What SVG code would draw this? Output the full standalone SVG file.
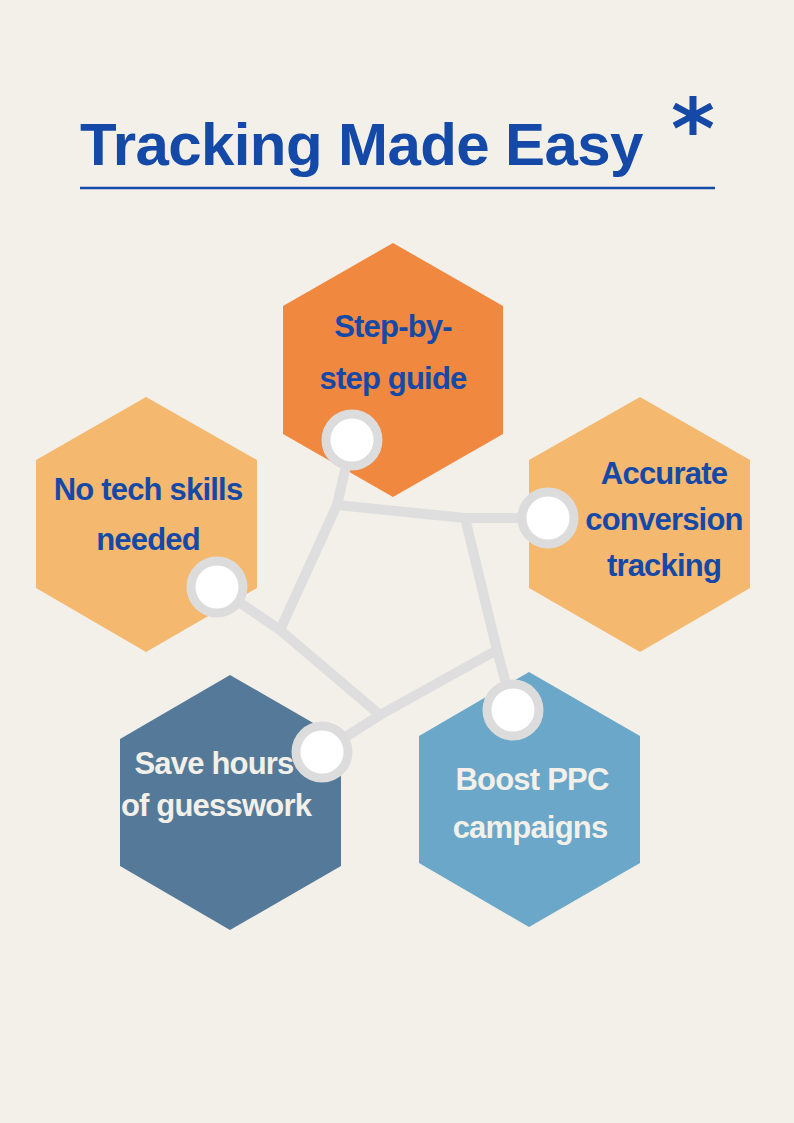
<svg xmlns="http://www.w3.org/2000/svg" width="794" height="1123" viewBox="0 0 794 1123">
<style>
.t{font-family:"Liberation Sans",Arial,sans-serif;font-weight:bold;font-size:31px;text-anchor:middle;letter-spacing:-0.8px}
.b{fill:#1549A8}.w{fill:#F3F0EA}
.c{fill:#fff;stroke:#DCDCDC;stroke-width:9}
</style>
<rect width="794" height="1123" fill="#F3F0EA"/>
<text x="80" y="165" font-family="Liberation Sans,Arial,sans-serif" font-weight="bold" font-size="60" fill="#1549A8" letter-spacing="-0.6">Tracking Made Easy</text>
<line x1="80" y1="188" x2="715" y2="188" stroke="#1549A8" stroke-width="2.5"/>
<text x="693" y="158" font-family="DejaVu Sans,sans-serif" font-weight="bold" font-size="84" fill="#1549A8" text-anchor="middle">*</text>
<g id="n1"><polygon points="393,243 503,306 503,434 393,497 283,434 283,306" fill="#F0883F"/>
<text class="t b" x="393" y="337">Step-by-</text><text class="t b" x="393" y="389">step guide</text></g>
<g id="n2"><polygon points="146,397 257,460 257,588 146,652 36,588 36,460" fill="#F4B86E"/>
<text class="t b" x="148" y="500">No tech skills</text><text class="t b" x="148" y="550">needed</text></g>
<g id="n3"><polygon points="640,397 750,460 750,588 640,652 529,588 529,460" fill="#F4B86E"/>
<text class="t b" x="664" y="484">Accurate</text><text class="t b" x="664" y="530">conversion</text><text class="t b" x="664" y="576">tracking</text></g>
<g id="n4"><polygon points="230,675 341,739 341,866 230,930 120,866 120,739" fill="#557A99"/>
<text class="t w" x="214" y="774">Save hours</text><text class="t w" x="216" y="816">of guesswork</text></g>
<g id="n5"><polygon points="529,672 640,736 640,863 529,927 419,863 419,736" fill="#6BA7C8"/>
<text class="t w" x="532" y="790">Boost PPC</text><text class="t w" x="530" y="838">campaigns</text></g>
<g id="connectors" stroke="#DEDEDE" stroke-width="10" fill="none" stroke-linejoin="round">
<polygon points="337,505 465,518 497,650 380,715 280,630"/>
<line x1="352" y1="440" x2="337" y2="505"/>
<line x1="465" y1="518" x2="548" y2="518"/>
<line x1="497" y1="650" x2="513" y2="710"/>
<line x1="380" y1="715" x2="322" y2="752"/>
<line x1="280" y1="630" x2="217" y2="587"/>
</g>
<g id="dots">
<circle class="c" cx="352" cy="440" r="26"/>
<circle class="c" cx="548" cy="518" r="26"/>
<circle class="c" cx="217" cy="587" r="26"/>
<circle class="c" cx="513" cy="710" r="26"/>
<circle class="c" cx="322" cy="752" r="26"/>
</g>
</svg>
